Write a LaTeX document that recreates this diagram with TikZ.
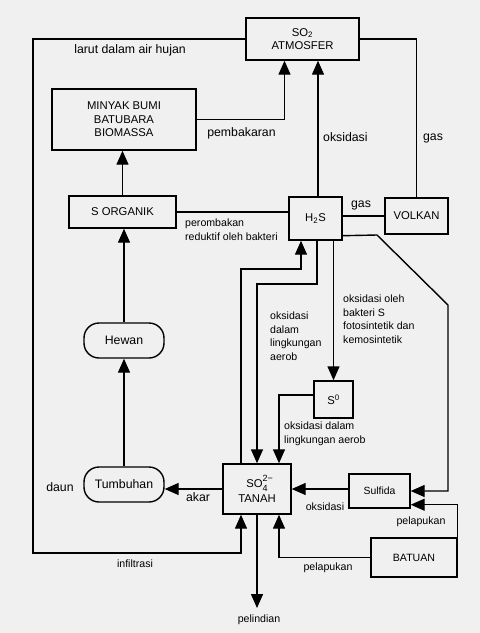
\documentclass[tikz,border=0pt]{standalone}
\usepackage{fontspec}
\setmainfont{Liberation Sans}
\usetikzlibrary{arrows.meta,calc}

\begin{document}
\begin{tikzpicture}[x=1pt,y=-1pt,
  kotak/.style={draw,line width=1.4pt,align=center,inner sep=0pt,
    font=\fontsize{11.3}{13.5}\selectfont},
  bulat/.style={kotak,rounded corners=15pt,font=\fontsize{12.3}{14}\selectfont},
  ket/.style={font=\fontsize{10.6}{13.4}\selectfont,inner sep=0pt,align=left},
  ketbesar/.style={font=\fontsize{12.3}{14}\selectfont,inner sep=0pt},
  garis/.style={line width=1.4pt},
  panah/.style={garis,-{Triangle[length=14pt,width=12pt]}}]
\definecolor{latar}{gray}{0.94}

\fill[latar] (0,0) rectangle (480,633);
\useasboundingbox (0,0) rectangle (480,633);

% kotak
\node[kotak,minimum width=113,minimum height=42] (so2) at (302.5,39)
    {SO\textsubscript{2}\\ATMOSFER};
\node[kotak,minimum width=144,minimum height=61] (minyak) at (124,119.5)
    {MINYAK BUMI\\BATUBARA\\BIOMASSA};
\node[kotak,minimum width=107,minimum height=32] (sorganik) at (122.5,212)
    {S ORGANIK};
\node[kotak,minimum width=53,minimum height=43] (h2s) at (315.5,218.5)
    {H\textsubscript{2}S};
\node[kotak,minimum width=63,minimum height=36] (volkan) at (416.5,216)
    {VOLKAN};
\node[bulat,minimum width=80,minimum height=35] (hewan) at (124,340.5)
    {Hewan};
\node[kotak,minimum width=39,minimum height=37] (s0) at (333.5,399.5)
    {S\textsuperscript{0}};
\node[kotak,minimum width=68,minimum height=50] (tanah) at (257,489)
    {SO\rlap{\raisebox{6pt}{\small 2−}}\raisebox{-4pt}{\small 4}\\[1pt]TANAH};
\node[bulat,minimum width=80,minimum height=35] (tumbuhan) at (124,484.5)
    {Tumbuhan};
\node[kotak,minimum width=61,minimum height=34,font=\fontsize{10.4}{12}\selectfont]
    (sulfida) at (379.5,491) {Sulfida};
\node[kotak,minimum width=86,minimum height=39,font=\fontsize{10.6}{12}\selectfont]
    (batuan) at (414,557.5) {BATUAN};
\coordinate (lind) at (257,608);

% keterangan
\node[ketbesar] (larut) at (130,50) {larut dalam air hujan};
\node[ketbesar] (bakar) at (241.5,133) {pembakaran};
\node[ketbesar,anchor=west] (oks1) at (323,137) {oksidasi};
\node[ketbesar] (gas1) at (433,138) {gas};
\node[ketbesar] (gas2) at (361,205) {gas};
\node[ket,anchor=north west] (rombak) at (185,219)
    {perombakan\\reduktif oleh bakteri};
\node[ket,anchor=north west] (aerob1) at (270,312)
    {oksidasi\\dalam\\lingkungan\\aerob};
\node[ket,anchor=north west] (bakteri) at (343,295)
    {oksidasi oleh\\bakteri S\\fotosintetik dan\\kemosintetik};
\node[ket,anchor=north west] (aerob2) at (284,422)
    {oksidasi dalam\\lingkungan aerob};
\node[ketbesar] (daun) at (60,487) {daun};
\node[ketbesar] (akar) at (198,497) {akar};
\node[ket] (oks2) at (325,507) {oksidasi};
\node[ket] (lapuk1) at (421,522) {pelapukan};
\node[ket] (lapuk2) at (328,568) {pelapukan};
\node[ket] (infil) at (135,564) {infiltrasi};
\node[ket] (pelindian) at (259,620) {pelindian};

% panah
\draw[panah] (so2.west) -| (33,553) -| ($(tanah.south)+(-16,0)$);
\draw[panah] (minyak.east) -| ($(so2.south)+(-18,0)$);
\draw[panah] ($(h2s.north)+(2.5,0)$) -- ($(so2.south)+(15.5,0)$);
\draw[garis] (so2.east) -| (volkan.north);
\draw[panah] (sorganik.north) -- (minyak.south -| sorganik.north);
\draw[panah] (hewan.north) -- (sorganik.south -| hewan.north);
\draw[panah] (tumbuhan.north) -- (hewan.south);
\draw[garis] (sorganik.east) -- (sorganik.east -| h2s.west);
\draw[garis] (volkan.west) -- (volkan.west -| h2s.east);
\draw[panah] ($(h2s.south east)+(0,-5)$) -- (377,235) -- (448,305)
    |- (sulfida.east);
\draw[panah] ($(tanah.north)+(-16,0)$) |- (301,269)
    -- ($(h2s.south)+(-14.5,0)$);
\draw[panah] ($(h2s.south)+(1.5,0)$) |- (257,284) -- (tanah.north);
\draw[panah] (s0.north |- h2s.south) -- (s0.north);
\draw[panah] ($(s0.west)+(0,-4.5)$) -| ($(tanah.north)+(22,0)$);
\draw[panah] (sulfida.west |- tanah.east) -- (tanah.east);
\draw[panah] (batuan.north east) |- ($(sulfida.south east)+(0,-4)$);
\draw[panah] (batuan.west) -| ($(tanah.south)+(22,0)$);
\draw[panah] (tanah.south) -- (lind);
\draw[panah] (tanah.west) -- (tanah.west -| tumbuhan.east);

\end{tikzpicture}
\end{document}
